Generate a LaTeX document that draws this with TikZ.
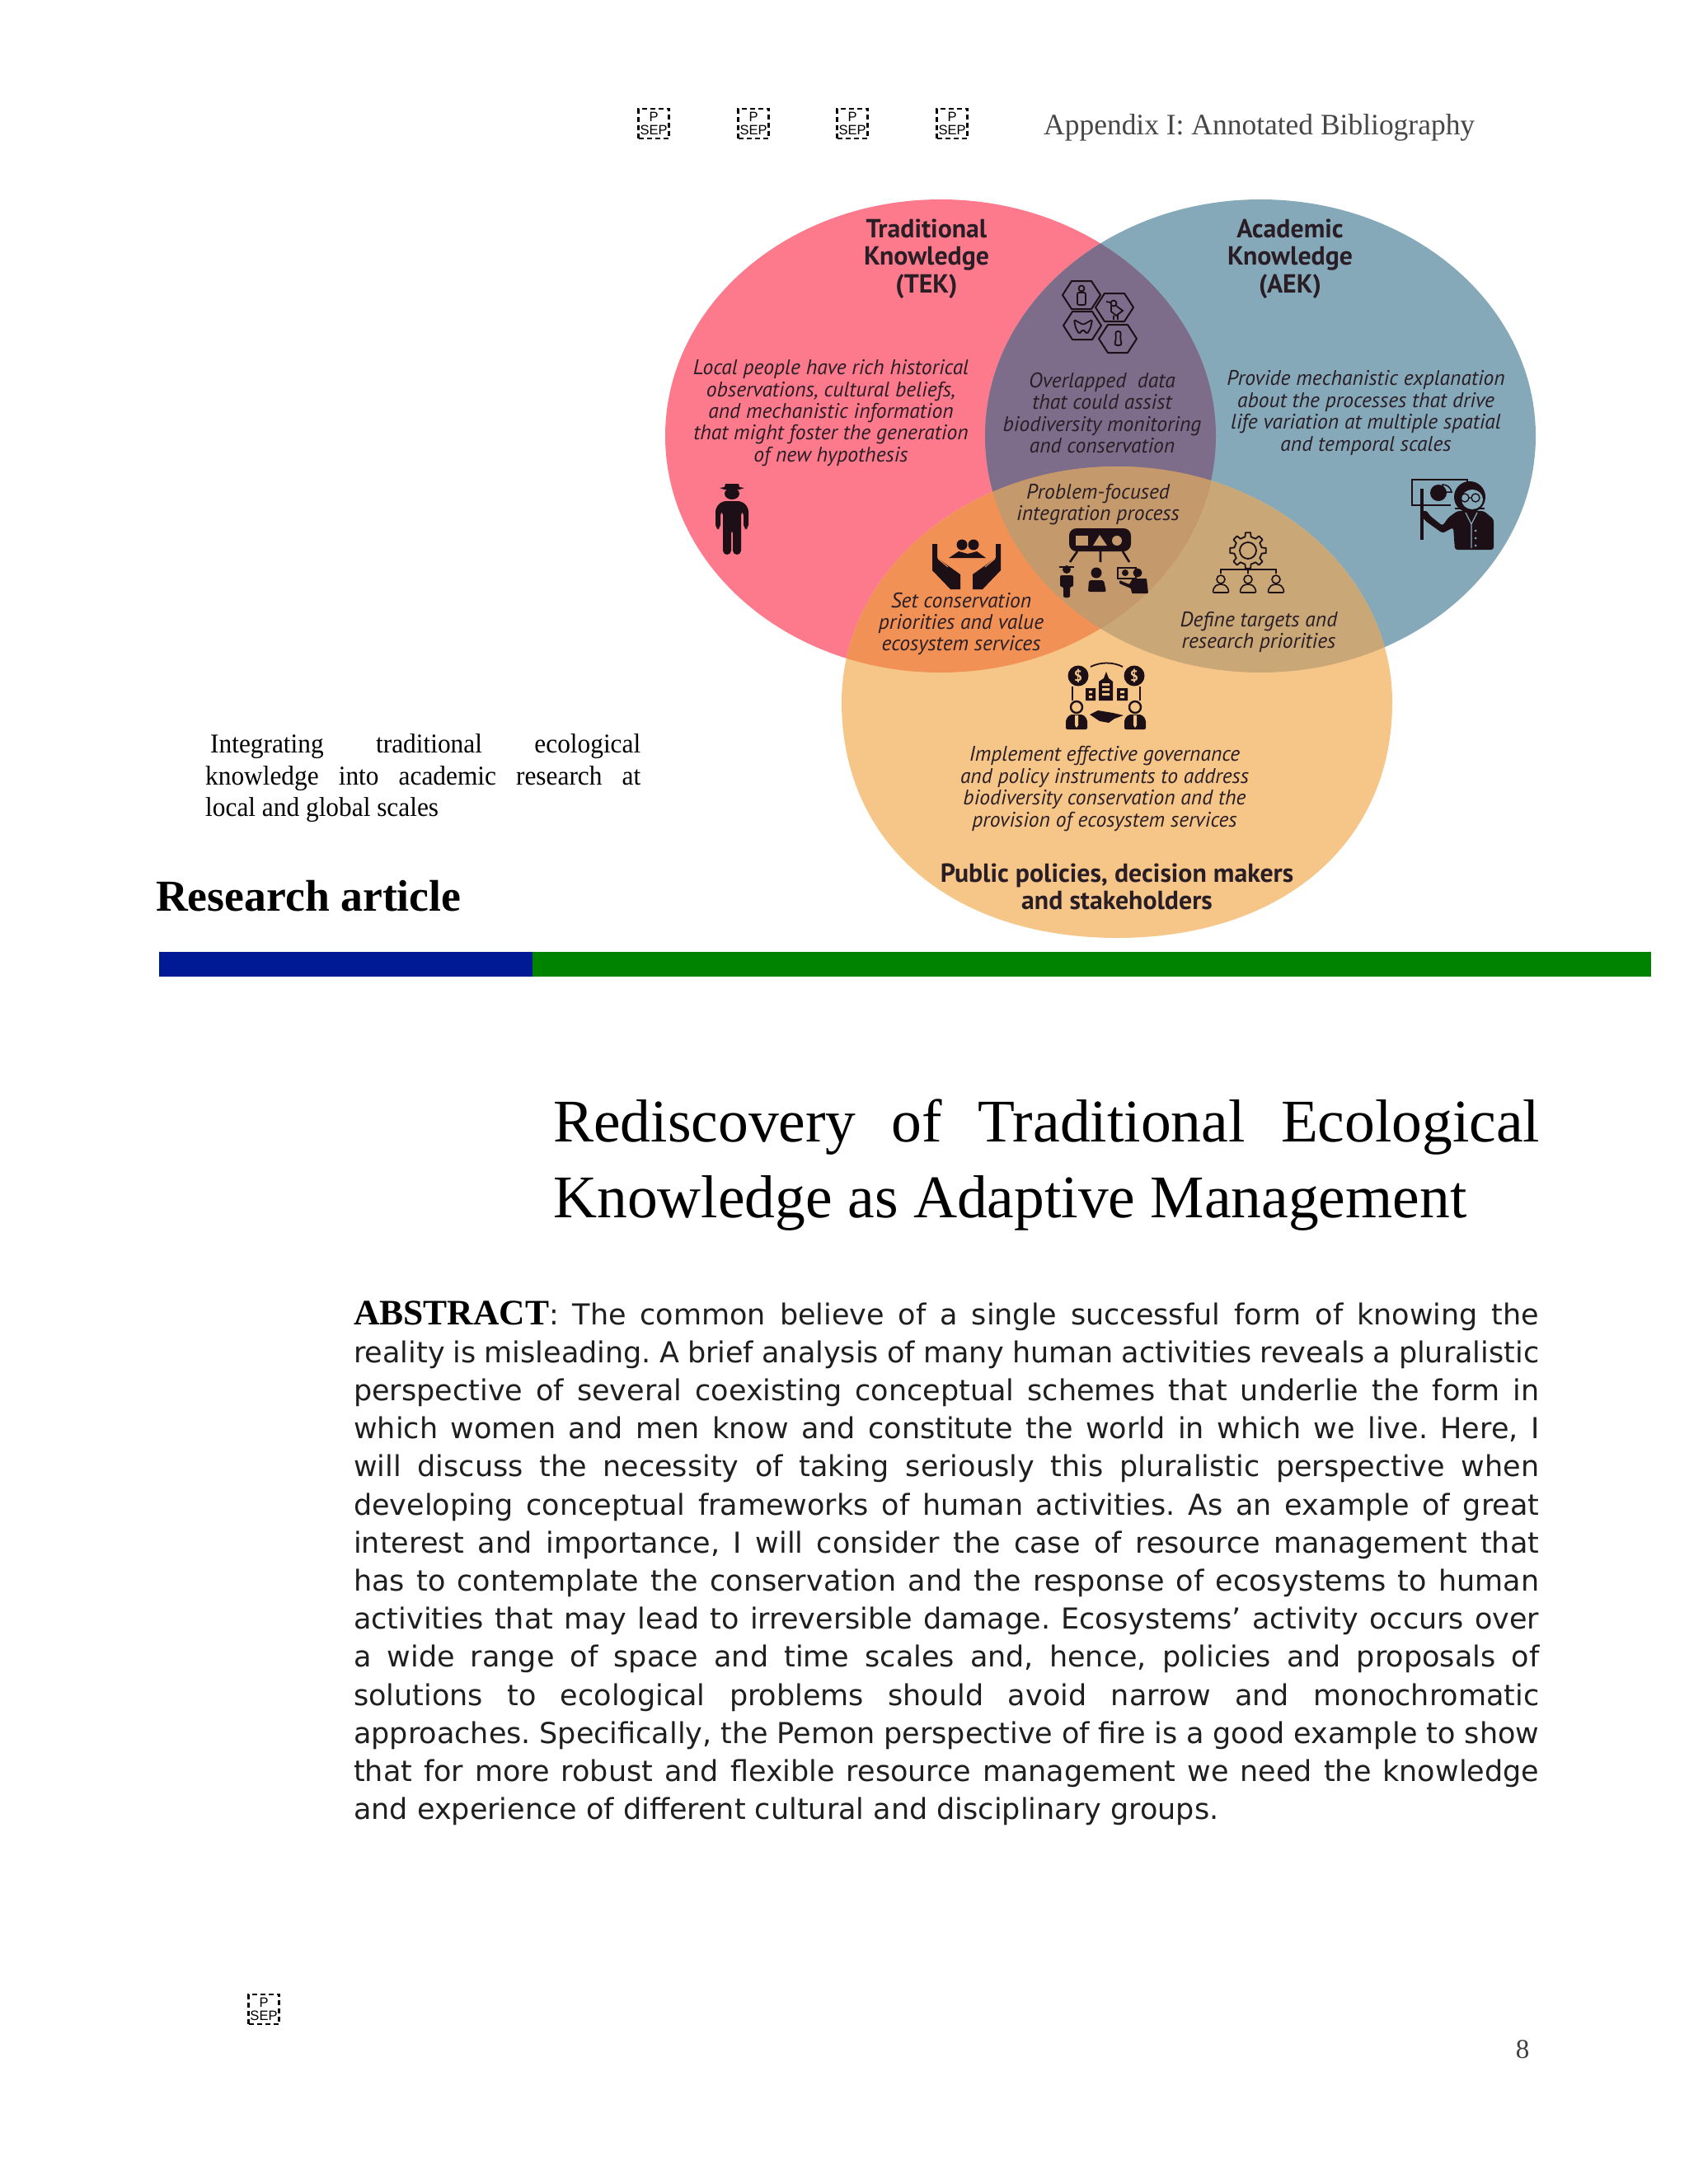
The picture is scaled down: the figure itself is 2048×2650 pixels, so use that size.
\documentclass[tikz,border=0pt]{standalone}
\usepackage{fontspec}
\setmainfont{Liberation Serif}
\newfontfamily\garfont[FakeStretch=0.95]{Liberation Serif}
\newfontfamily\vennfont{PT Sans}
\newfontfamily\absfont{DejaVu Sans}
\newfontfamily\sepfont{Liberation Sans}
\definecolor{vpink}{HTML}{FC7A8C}
\definecolor{vblue}{HTML}{86A9BA}
\definecolor{vorange}{HTML}{F6C689}
\definecolor{vpurple}{HTML}{7D6D8A}
\definecolor{vdeep}{HTML}{F29155}
\definecolor{vtan}{HTML}{C9A777}
\definecolor{vcentre}{HTML}{C49A6D}
\definecolor{ink}{HTML}{1C1016}
\definecolor{vtext}{HTML}{2A1E26}
\definecolor{barblue}{HTML}{001A96}
\definecolor{bargreen}{HTML}{008400}
\newcommand\jl[2]{\makebox[#1pt][s]{#2}}
\tikzset{
  vhead/.style={inner sep=0pt,align=center,text=vtext,font=\vennfont\bfseries\fontsize{31.8}{33.6}\selectfont},
  vbody/.style={inner sep=0pt,align=center,text=vtext,font=\vennfont\itshape\fontsize{25.6}{26.4}\selectfont},
  sepbox/.style={draw=black,dash pattern=on 6pt off 4pt,line width=2.3pt,minimum width=37pt,minimum height=36pt,inner sep=0pt,align=center,font=\sepfont\fontsize{16.5}{17}\selectfont},
  garline/.style={anchor=base west,inner sep=0pt,font=\garfont\fontsize{33}{38.5}\selectfont},
}
\begin{document}
\begin{tikzpicture}[x=1pt,y=-1pt]
\useasboundingbox (0,0) rectangle (2048,2650);
\fill[white] (0,0) rectangle (2048,2650);

% Venn circles
\def\tekc{(1141,529) ellipse [x radius=334pt,y radius=287pt]}
\def\aekc{(1529,529) ellipse [x radius=334pt,y radius=287pt]}
\def\pubc{(1021,852) .. controls (1021,694) and (1171,566) .. (1355,566) .. controls (1539,566) and (1689,694) .. (1689,852) .. controls (1689,1024) and (1555,1138) .. (1355,1138) .. controls (1155,1138) and (1021,1024) .. (1021,852) -- cycle}
\fill[vpink] \tekc;
\fill[vblue] \aekc;
\fill[vorange] \pubc;
\begin{scope}\clip \aekc; \fill[vtan] \pubc;\end{scope}
\begin{scope}\clip \tekc; \fill[vpurple] \aekc; \fill[vdeep] \pubc; \clip \aekc; \fill[vcentre] \pubc;\end{scope}

% header
\foreach \n/\cx in {a/793,b/914,c/1034,d/1155}{
  \node[sepbox] (sep\n) at (\cx,150) {P\\[-1pt]SEP};
}
\node[sepbox] (sepe) at (320,2438) {P\\[-1pt]SEP};
\node[anchor=base west,inner sep=0pt,text=black!72,font=\fontsize{36}{40}\selectfont] (head) at (1266,163) {\scalebox{0.985}[1]{Appendix I: Annotated Bibliography}};

% Venn text
\node[vhead] (tek) at (1124,314) {Traditional\\Knowledge\\(TEK)};
\node[vhead] (aek) at (1565,314) {Academic\\Knowledge\\(AEK)};
\node[vhead] (pub) at (1355,1076) {Public policies, decision makers\\and stakeholders};
\node[vbody] (tekd) at (1008,501) {Local people have rich historical\\observations, cultural beliefs,\\and mechanistic information\\that might foster the generation\\of new hypothesis};
\node[vbody] (mid) at (1337,501) {Overlapped\ \ data\\that could assist\\biodiversity monitoring\\and conservation};
\node[vbody] (aekd) at (1657,501) {Provide mechanistic explanation\\about the processes that drive\\life variation at multiple spatial\\and temporal scales};
\node[vbody] (prob) at (1332,612) {Problem-focused\\integration process};
\node[vbody] (setc) at (1166,757) {Set conservation\\priorities and value\\ecosystem services};
\node[vbody] (deft) at (1527,767) {Define targets and\\research priorities};
\node[vbody] (impl) at (1340,957) {Implement effective governance\\and policy instruments to address\\biodiversity conservation and the\\provision of ecosystem services};

% farmer icon
\fill[ink] (873,592) -- (879,591) -- (880,587) -- (896,587) -- (897,591) -- (903,592) -- (897,594) -- (879,594) -- cycle;
\fill[ink] (888,599) ellipse [x radius=9pt,y radius=7pt];
\fill[ink,rounded corners=5pt] (868,642) -- (868,616) -- (876,608) -- (900,608) -- (908,616) -- (908,642) -- (902,642) -- (902,620) -- (899,620) -- (899,673) -- (889,673) -- (889,642) -- (887,642) -- (887,673) -- (877,673) -- (877,620) -- (874,620) -- (874,642) -- cycle;

% presenter icon
\draw[ink,line width=2pt] (1725,582) -- (1713,582) -- (1713,613) -- (1760,613);
\draw[ink,line width=2pt] (1725,582) -- (1780,582) -- (1780,590);
\fill[ink] (1745,598) circle [radius=10pt];
\draw[ink,line width=1.5pt] (1750,597) -- (1750,588) .. controls (1756,588) and (1760,592) .. (1761,597) -- cycle;
\draw[ink,line width=4pt] (1725,593) -- (1725,655);
\fill[ink] (1783,603) circle [radius=19pt];
\fill[ink] (1765,616) rectangle (1801,618);
\fill[vblue] (1786,606) ellipse [x radius=13pt,y radius=12pt];
\draw[ink,line width=1.4pt] (1777,604) circle [radius=5pt] (1790,604) circle [radius=5pt] (1782,604) -- (1785,604);
\fill[ink,rounded corners=3pt] (1730,619) -- (1735,626) -- (1750,638) -- (1757,628) -- (1768,620) -- (1800,620) -- (1812,630) -- (1812,667) -- (1765,667) -- (1763,640) -- (1750,647) -- (1729,632) -- (1722,622) -- cycle;
\draw[vblue,line width=1.2pt] (1778,622) -- (1785,636) -- (1792,622) (1785,636) -- (1785,665);
\fill[vblue] (1790,644) circle [radius=1.5pt] (1790,653) circle [radius=1.5pt] (1790,662) circle [radius=1.5pt];

% hexagons
\foreach \hx/\hy in {1312/358,1352/373,1313/395,1356/411}{
  \draw[ink,line width=2pt,line join=round,shift={(\hx,\hy)}] (-23,0) -- (-12,-17) -- (12,-17) -- (23,0) -- (12,17) -- (-12,17) -- cycle;
}
\draw[ink,line width=1.8pt] (1312,350) circle [radius=3.5pt];
\draw[ink,line width=1.8pt,rounded corners=2pt] (1307,355) rectangle (1317,370);
\draw[ink,line width=1.8pt] (1342,366) -- (1347,367) (1351,368) circle [radius=3.5pt] (1348,371) -- (1348,378) -- (1354,383) -- (1362,377) -- (1354,371) (1351,383) -- (1351,388) (1356,382) -- (1356,388);
\draw[ink,line width=1.8pt,rounded corners=1.5pt] (1314,394) -- (1303,388) -- (1305,398) -- (1309,405) -- (1314,400) -- (1319,405) -- (1323,398) -- (1325,388) -- cycle;
\draw[ink,line width=1.8pt,rounded corners=3pt] (1353,402) -- (1360,402) -- (1359,410) -- (1361,419) -- (1352,419) -- (1354,410) -- cycle;

% caring hands
\fill[ink] (1131,660) -- (1137,660) -- (1137,677) -- (1165,697) -- (1165,715) -- (1153,715) -- (1131,692) -- cycle;
\fill[ink] (1214,660) -- (1208,660) -- (1208,677) -- (1180,697) -- (1180,715) -- (1192,715) -- (1214,692) -- cycle;
\draw[vdeep,line width=1pt] (1138,678) -- (1150,688) (1207,678) -- (1195,688);
\fill[ink] (1167,661) circle [radius=6.5pt] (1181,661) circle [radius=6.5pt];
\fill[ink] (1151,677) -- (1163,669) -- (1174,672) -- (1185,669) -- (1196,677) -- cycle;

% problem board
\fill[ink,rounded corners=9pt] (1297,641) rectangle (1372,669);
\fill[vcentre] (1305,650) rectangle (1320,662);
\fill[vcentre] (1334,649) -- (1343,662) -- (1326,662) -- cycle;
\fill[vcentre] (1355,656) circle [radius=6pt];
\draw[ink,line width=2.6pt] (1307,669) -- (1298,682) (1335,669) -- (1335,682) (1362,669) -- (1370,682);
\fill[ink] (1294,691) ellipse [x radius=5pt,y radius=5pt];
\fill[ink] (1285,687) rectangle (1303,689);
\fill[ink,rounded corners=2pt] (1286,712) -- (1286,698) -- (1302,698) -- (1302,712) -- (1298,712) -- (1298,725) -- (1290,725) -- (1290,712) -- cycle;
\fill[ink] (1330,695) circle [radius=6.5pt];
\fill[ink,rounded corners=2pt] (1320,718) -- (1321,704) -- (1339,704) -- (1342,718) -- cycle;
\draw[ink,line width=1.2pt] (1356,689) rectangle (1378,702);
\fill[ink] (1365,695) circle [radius=4pt] (1380,695) circle [radius=5.5pt];
\fill[ink,rounded corners=1pt] (1358,704) -- (1370,709) -- (1374,702) -- (1391,702) -- (1393,720) -- (1373,720) -- (1372,714) -- (1358,708) -- cycle;

% gear and team
\begin{scope}[shift={(1514,668)}]
\draw[ink,line width=1.8pt,line join=round] (-12:17) \foreach \a in {0,45,...,315} { -- (\a-12:17) -- (\a-8:22) -- (\a+8:22) -- (\a+12:17) } -- cycle;
\draw[ink,line width=1.8pt] (0,0) circle [radius=10pt];
\end{scope}
\draw[ink,line width=1.8pt] (1514,690) -- (1514,696) (1481,696) -- (1481,691) -- (1548,691) -- (1548,696);
\foreach \px in {1481,1514,1548}{
  \draw[ink,line width=1.6pt,shift={(\px,0)}] (0,703) circle [radius=5pt];
  \draw[ink,line width=1.6pt,rounded corners=2pt,shift={(\px,0)}] (-10,719) -- (-8,712) -- (-3,709) -- (3,709) -- (8,712) -- (10,719) -- cycle;
}

% governance icon
\foreach \cx/\nm in {1308/c1,1376/c2}{
  \node[circle,fill=ink,text=vorange,minimum size=25pt,inner sep=0pt,font=\vennfont\bfseries\fontsize{18}{18}\selectfont] (\nm) at (\cx,820) {\$};
}
\draw[ink,line width=1.8pt] (1323,809) .. controls (1335,803) and (1350,803) .. (1362,809);
\fill[ink] (1342,815) -- (1345,823) -- (1350,827) -- (1350,850) -- (1333,850) -- (1333,827) -- (1339,823) -- cycle;
\fill[vorange] (1337,829) rectangle (1346,832) (1337,835) rectangle (1346,838) (1337,841) rectangle (1346,844);
\fill[ink] (1317,835) rectangle (1329,850) (1355,835) rectangle (1368,850);
\fill[vorange] (1321,838) rectangle (1325,841) (1321,844) rectangle (1325,847) (1359,838) rectangle (1364,841) (1359,844) rectangle (1364,847);
\draw[ink,line width=2pt] (1301,833) -- (1301,850) (1383,833) -- (1383,850);
\foreach \hx in {1306,1377}{
  \draw[ink,line width=2.4pt,shift={(\hx,0)}] (0,858) circle [radius=7pt];
  \fill[ink,rounded corners=2pt,shift={(\hx,0)}] (-13,885) -- (-13,873) -- (-8,867) -- (8,867) -- (13,873) -- (13,885) -- cycle;
  \fill[vorange,shift={(\hx,0)}] (-2,868) -- (2,868) -- (2,880) -- (0,883) -- (-2,880) -- cycle;
}
\fill[ink] (1322,867) -- (1332,862) -- (1350,865) -- (1363,868) -- (1352,872) -- (1345,877) -- (1334,875) -- cycle;

% left column
\node[garline] (int1) at (255,913) {\jl{522}{Integrating traditional ecological}};
\node[garline] (int2) at (249,952) {\jl{528}{knowledge into academic research at}};
\node[garline] (int3) at (249,990) {local and global scales};
\node[anchor=base west,inner sep=0pt,font=\bfseries\fontsize{53.7}{56}\selectfont] (res) at (189,1105) {Research article};

% bars
\fill[barblue] (193,1155) rectangle (646,1185);
\fill[bargreen] (646,1155) rectangle (2003,1185);

% title
\node[anchor=base west,inner sep=0pt,font=\fontsize{73.5}{90}\selectfont] (t1) at (671,1385) {\jl{1197}{Rediscovery of Traditional Ecological}};
\node[anchor=base west,inner sep=0pt,font=\fontsize{73.5}{90}\selectfont] (t2) at (671,1477) {Knowledge as Adaptive Management};

% abstract
\node[anchor=north west,inner sep=0pt,text width=1438pt,align=left,text=black!88,font=\absfont\fontsize{35}{46.2}\selectfont] (abs) at (429,1578) {%
\frenchspacing\spaceskip=.318em plus 1fil minus .1em\relax
\jl{1438}{{\rmfamily\bfseries\color{black}\fontsize{43.5}{46.2}\selectfont ABSTRACT}: The common believe of a single successful form of knowing the}\\
\jl{1438}{reality is misleading. A brief analysis of many human activities reveals a pluralistic}\\
\jl{1438}{perspective of several coexisting conceptual schemes that underlie the form in}\\
\jl{1438}{which women and men know and constitute the world in which we live. Here, I}\\
\jl{1438}{will discuss the necessity of taking seriously this pluralistic perspective when}\\
\jl{1438}{developing conceptual frameworks of human activities. As an example of great}\\
\jl{1438}{interest and importance, I will consider the case of resource management that}\\
\jl{1438}{has to contemplate the conservation and the response of ecosystems to human}\\
\jl{1438}{activities that may lead to irreversible damage. Ecosystems’ activity occurs over}\\
\jl{1438}{a wide range of space and time scales and, hence, policies and proposals of}\\
\jl{1438}{solutions to ecological problems should avoid narrow and monochromatic}\\
\jl{1438}{approaches. Specifically, the Pemon perspective of fire is a good example to show}\\
\jl{1438}{that for more robust and flexible resource management we need the knowledge}\\
\mbox{and experience of different cultural and disciplinary groups.}};

\node[anchor=base,inner sep=0pt,text=black!75,font=\fontsize{33}{36}\selectfont] (pg) at (1847,2497) {8};
\end{tikzpicture}
\end{document}
